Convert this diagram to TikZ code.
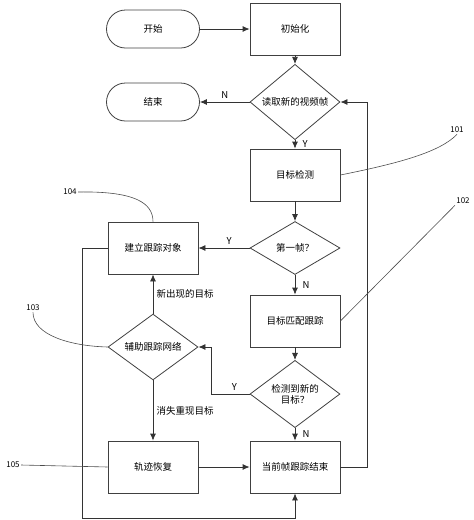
\documentclass[tikz,border=0pt]{standalone}
\usepackage{fontspec}
\setmainfont{Noto Sans CJK SC}
\usepackage{tikz}
\usetikzlibrary{shapes.geometric,arrows.meta}

\begin{document}
\begin{tikzpicture}[auto, x=1pt, y=-1pt, node distance=73pt, >={Latex[length=7pt,width=6pt]},
    font=\fontsize{9.5}{11}\selectfont, line width=0.8pt, draw=black!75]
\tikzstyle{block} = [draw=black!75, rectangle, minimum height=52pt, minimum width=90pt]
\tikzstyle{decision} = [draw=black!75, diamond, inner sep=0pt, align=center, minimum height=53pt, minimum width=90pt]
\tikzstyle{term} = [draw=black!75, rectangle, rounded corners=19pt, minimum height=38pt, minimum width=93pt]
\tikzstyle{line} = [draw=black!80]
\tikzstyle{leader} = [draw=black!70, line width=0.6pt]
\tikzstyle{refnum} = [inner sep=1pt, font=\fontsize{8}{10}\selectfont]

\useasboundingbox (0,0) rectangle (474,520);

    % main column first
    \node [block] (init) at (295,29) {初始化};
    \node [decision, below of = init] (read) {读取新的视频帧};
    \node [block, below of = read] (detect) {目标检测};
    \node [decision, below of = detect] (first) {第一帧？};
    \node [block, below of = first] (match) {目标匹配跟踪};
    \node [decision, below of = match] (newobj) {检测到新的\\目标？};
    \node [block, below of = newobj] (frameend) {当前帧跟踪结束};

    % left column
    \node [term, left of = init, node distance=142pt] (start) {开始};
    \node [term, left of = read, node distance=142pt] (stop) {结束};
    \node [block, left of = first, node distance=142pt] (build) {建立跟踪对象};
    \node [decision, left of = match, node distance=142pt, yshift=-26pt] (aux) {辅助跟踪网络};
    \node [block, left of = frameend, node distance=142pt] (traj) {轨迹恢复};

    \coordinate (loopL) at (82,518);

    % reference numbers
    \node [refnum] (r101) at (457,130) {101};
    \node [refnum] (r102) at (463,201) {102};
    \node [refnum] (r103) at (33,308) {103};
    \node [refnum] (r104) at (70,192) {104};
    \node [refnum] (r105) at (13,465) {105};

    % connectors
    \draw [line, ->] (start) -- (init);
    \draw [line, ->] (init) -- (read);
    \draw [line, ->] (read) -- node[above] {N} (stop);
    \draw [line, ->] (read) -- node[right, xshift=4pt] {Y} (detect);
    \draw [line, ->] (detect) -- (first);
    \draw [line, ->] (first) -- node[above, pos=0.4] {Y} (build);
    \draw [line, ->] (first) -- node[right, xshift=4pt] {N} (match);
    \draw [line, ->] (match) -- (newobj);
    \draw [line, ->] (newobj) -- node[right, xshift=4pt] {N} (frameend);
    \draw [line, ->] (newobj.west) -- node[above, pos=0.4] {Y} ++(-38,0) |- (aux.east);
    \draw [line, ->] (aux) -- node[right] {新出现的目标} (build);
    \draw [line, ->] (aux) -- node[right] {消失重现目标} (traj);
    \draw [line, ->] (traj) -- (frameend);
    \draw [line, ->] (frameend.east) -- ++(27,0) |- (read.east);
    \draw [line, ->] (build.west) -| (loopL) -| (frameend.south);

    % leader lines
    \draw [leader] (detect.east) .. controls (400,163) and (440,152) .. (r101.south);
    \draw [leader] (match.east) -- (r102.south west);
    \draw [leader] (r103.south) .. controls (33,335) and (70,346) .. (aux.west);
    \draw [leader] (r104.east) .. controls (135,191) and (153,203) .. (build.north);
    \draw [leader] (r105.east) -- (traj.west);

\end{tikzpicture}
\end{document}
